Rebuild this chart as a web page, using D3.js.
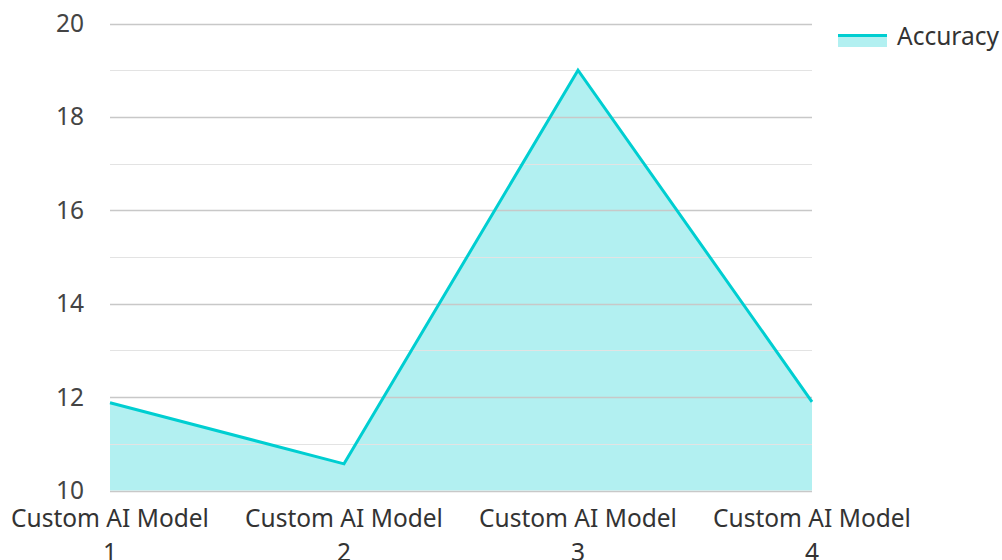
<!DOCTYPE html>
<html><head><meta charset="utf-8">
<script src="https://cdn.jsdelivr.net/npm/d3@7"></script>
<style>body{margin:0;background:#fff}svg{display:block;font-family:"Noto Sans",sans-serif}</style>
</head><body><svg id="c" width="1002" height="560"></svg>
<script>
const categories = ["Custom AI Model 1","Custom AI Model 2","Custom AI Model 3","Custom AI Model 4"];
const accuracy = [11.88, 10.57, 19.0, 11.9];
const yTicks = [10,12,14,16,18,20];
const yMinor = [11,13,15,17,19];
const seriesName = "Accuracy";

(function(){
const svg = d3.select("#c");
const pl=110, pr=812, pt=23.5, pb=490.5;
const x = d3.scalePoint().domain(categories).range([pl,pr]);
const y = d3.scaleLinear().domain([10,20]).range([pb,pt]);
const color = "#00CED1";
const fs = 24.5;

// area fill
svg.append("path").datum(accuracy)
  .attr("d", d3.area().x((d,i)=>x(categories[i])).y0(y(10)).y1(d=>y(d)))
  .attr("fill", color).attr("fill-opacity", 0.3);

// grid
svg.append("g").selectAll("line").data(yMinor).join("line")
  .attr("x1",pl).attr("x2",pr).attr("y1",d=>Math.round(y(d))+0.5).attr("y2",d=>Math.round(y(d))+0.5)
  .attr("stroke","#e3e3e3").attr("stroke-width",1.2);
svg.append("g").selectAll("line").data(yTicks).join("line")
  .attr("x1",pl).attr("x2",pr).attr("y1",d=>Math.round(y(d))+0.5).attr("y2",d=>Math.round(y(d))+0.5)
  .attr("stroke","#c8c8c8").attr("stroke-width",1.3);

// line
svg.append("path").datum(accuracy)
  .attr("d", d3.line().x((d,i)=>x(categories[i])).y(d=>y(d)))
  .attr("fill","none").attr("stroke",color).attr("stroke-width",3);

// y labels
svg.append("g").selectAll("text").data(yTicks).join("text")
  .attr("x",84).attr("y",d=>y(d)+8.5).attr("text-anchor","end")
  .attr("font-size",fs).attr("fill","#444").text(d=>d);

// x labels
const xl = svg.append("g").selectAll("text").data(categories).join("text")
  .attr("text-anchor","middle").attr("font-size",fs).attr("fill","#333");
xl.each(function(d){
  const t=d3.select(this); const parts=d.split(" "); const num=parts.pop();
  t.append("tspan").attr("x",x(d)).attr("y",527).text(parts.join(" "));
  t.append("tspan").attr("x",x(d)).attr("y",561).text(num);
});

// legend
const lg = svg.append("g");
lg.append("rect").attr("x",838).attr("y",35).attr("width",49).attr("height",12).attr("fill",color).attr("fill-opacity",0.3);
lg.append("line").attr("x1",838).attr("x2",887).attr("y1",35.5).attr("y2",35.5).attr("stroke",color).attr("stroke-width",3);
lg.append("text").attr("x",897).attr("y",44.5).attr("font-size",fs).attr("fill","#333").text(seriesName);
})();
</script></body></html>
